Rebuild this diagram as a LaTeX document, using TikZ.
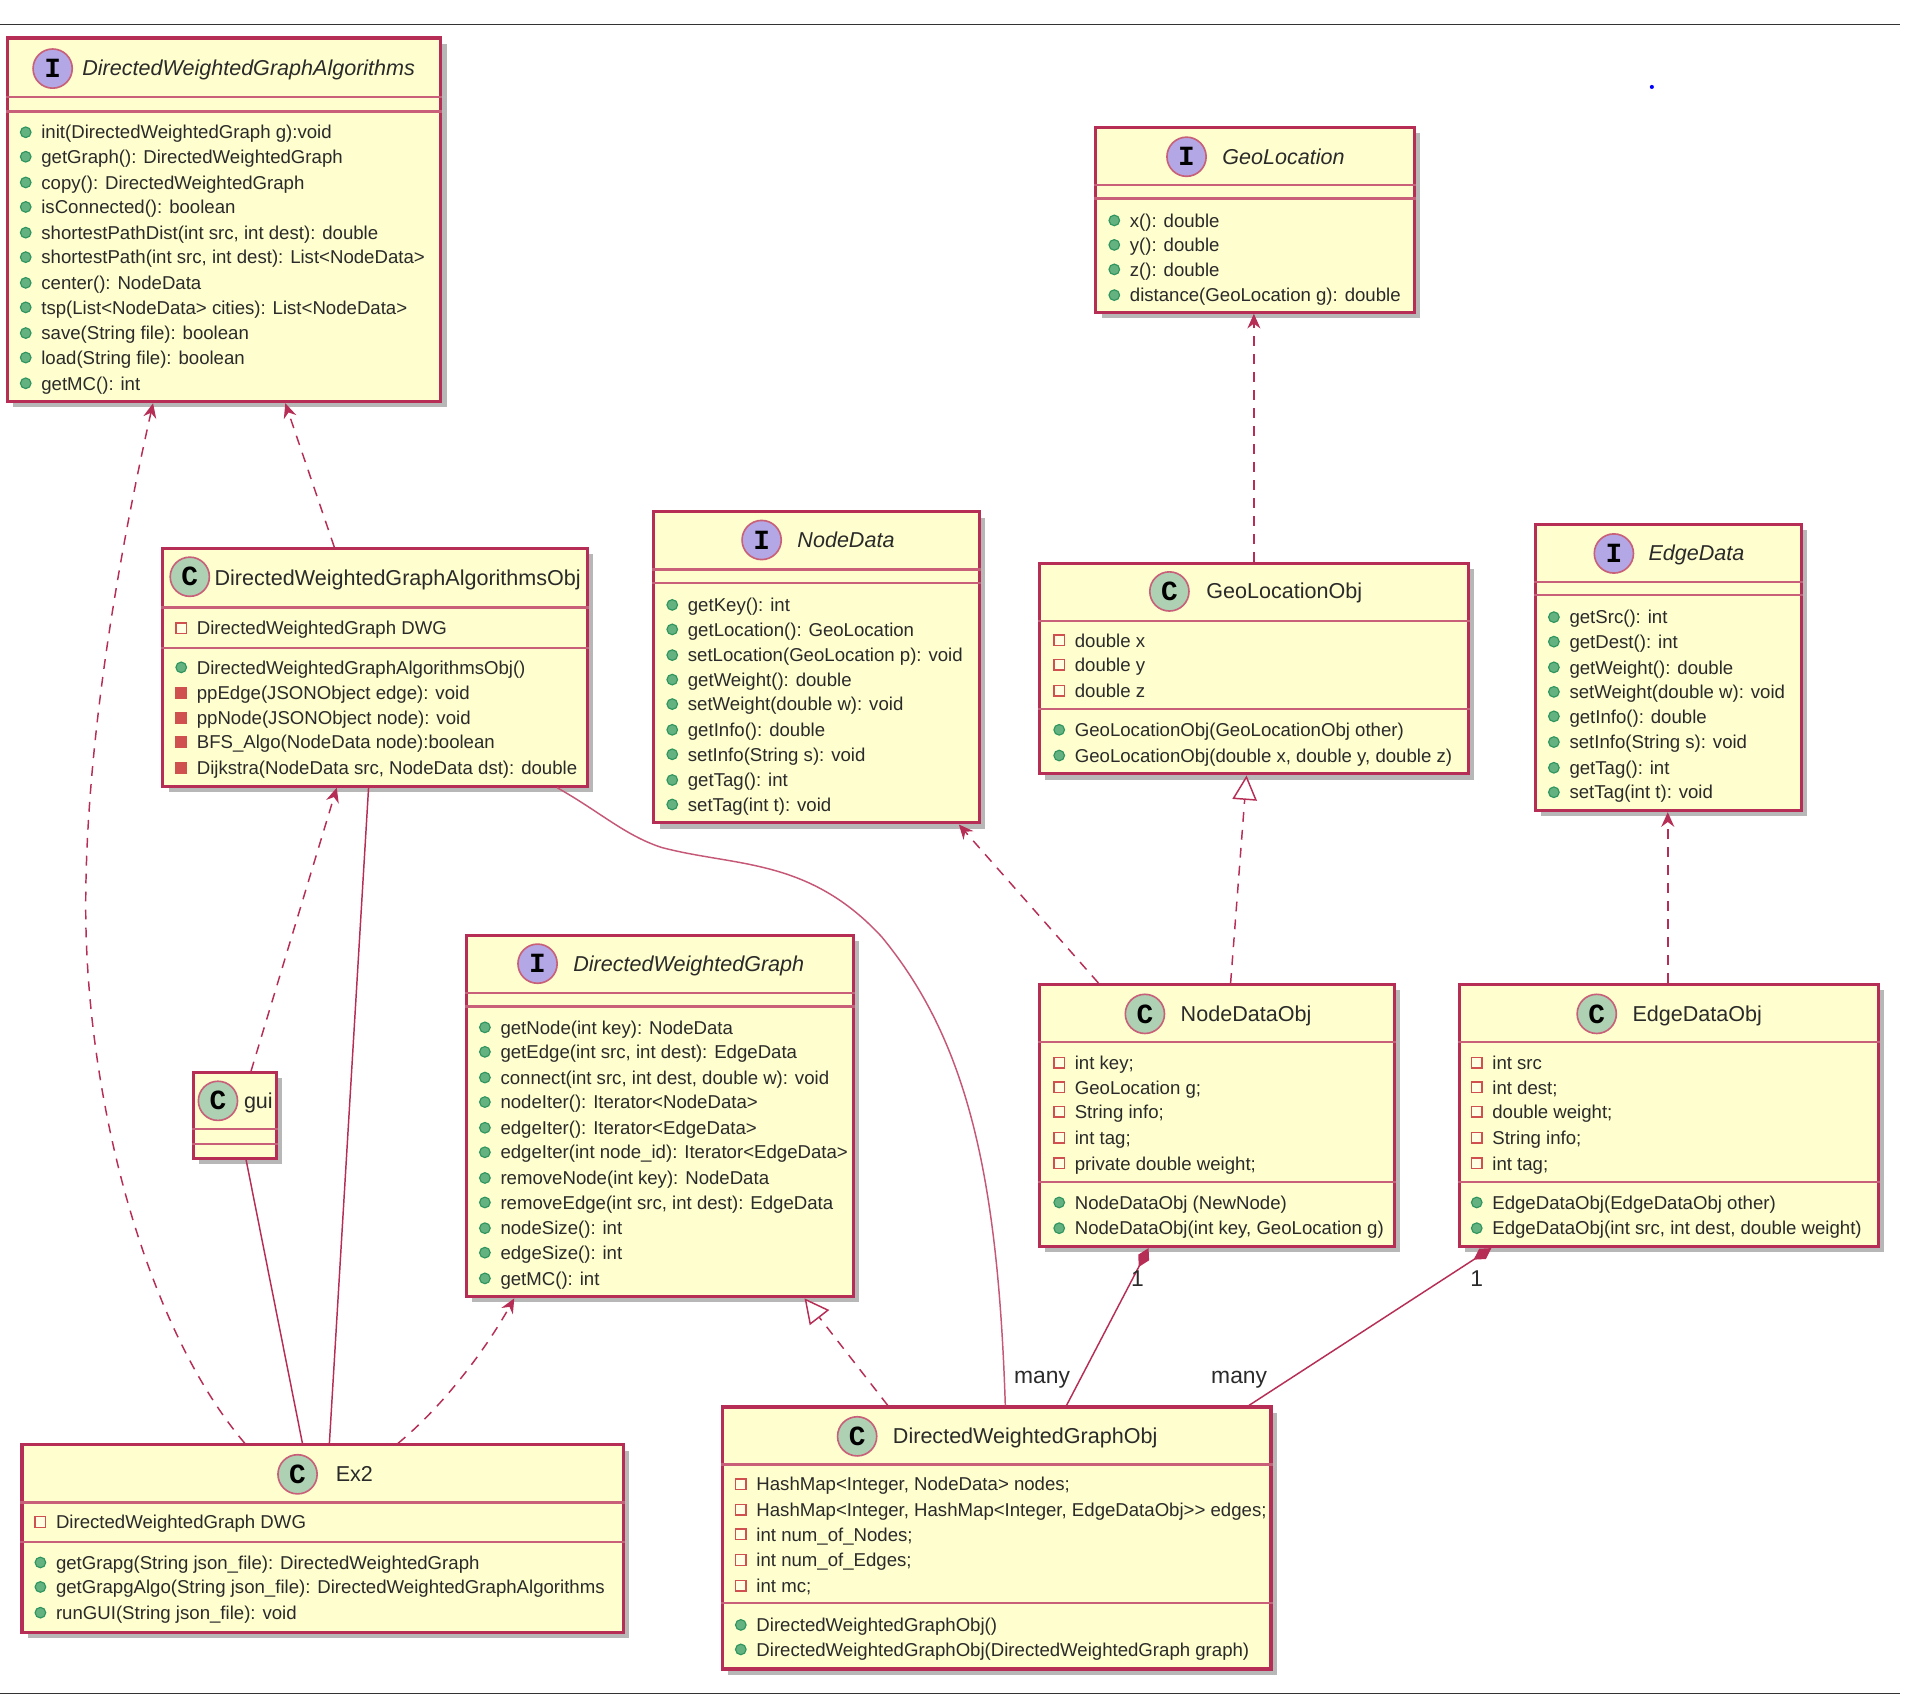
\documentclass[tikz,border=0pt]{standalone}
\usepackage{fontspec}
\setmainfont{Liberation Sans}
\setmonofont{Liberation Mono}
\usetikzlibrary{arrows.meta,fit,shadows}

\definecolor{umlline}{HTML}{B62E55}
\definecolor{umlsep}{HTML}{C9607A}
\definecolor{umlfill}{HTML}{FEFECE}
\definecolor{umltext}{HTML}{2A2A2A}
\definecolor{iconCfill}{HTML}{ADD1B2}
\definecolor{iconIfill}{HTML}{B4A7E5}
\definecolor{dotfill}{HTML}{63B27F}
\definecolor{dotline}{HTML}{2F9560}
\definecolor{privline}{HTML}{D0504F}

\tikzset{
  classbox/.style={draw=umlline,fill=umlfill,line width=1.9pt,inner sep=0pt,
    drop shadow={shadow xshift=3.5pt,shadow yshift=-3.5pt,opacity=0.4,fill=black!70}},
  sepline/.style={draw=umlsep,line width=1.4pt},
  iconC/.style={circle,draw=umlsep,line width=1pt,fill=iconCfill,minimum size=24pt,inner sep=0pt,
    font=\ttfamily\bfseries\fontsize{17}{17}\selectfont,text=black},
  iconI/.style={iconC,fill=iconIfill},
  ctitle/.style={anchor=base west,inner sep=0pt,text=umltext,font=\fontsize{13.2}{15}\selectfont},
  ititle/.style={ctitle,font=\itshape\fontsize{13.2}{15}\selectfont},
  rowtext/.style={anchor=base west,inner sep=0pt,text=umltext,font=\fontsize{11.4}{13}\selectfont},
  pubdot/.style={circle,draw=dotline,fill=dotfill,line width=0.7pt,minimum size=6.5pt,inner sep=0pt},
  privbox/.style={rectangle,draw=privline,fill=umlfill!60!white,line width=0.9pt,minimum size=6.5pt,inner sep=0pt},
  privfill/.style={privbox,fill=privline},
  realize/.style={draw=umlline,line width=0.9pt,dash pattern={on 6pt off 5pt},-{Stealth[length=9pt,width=8pt,inset=3pt]}},
  extend/.style={draw=umlline,line width=0.9pt,dash pattern={on 6pt off 5pt},-{Triangle[open,length=15pt,width=15pt,fill=white]}},
  assoc/.style={draw=umlline,line width=0.9pt},
  compose/.style={assoc,-{Diamond[length=13pt,width=7.5pt]}},
  multlabel/.style={inner sep=0pt,text=umltext,font=\fontsize{14}{16}\selectfont},
}

% one row of a class: name, x of the marker, y of the row, text
\newcommand{\pubrow}[4]{\node (#1d) [pubdot] at (#2,#3) {}; \node (#1) [rowtext] at (#2+12.5,#3+5.5) {#4};}
\newcommand{\fieldrow}[4]{\node (#1d) [privbox] at (#2,#3) {}; \node (#1) [rowtext] at (#2+12.5,#3+5.5) {#4};}
\newcommand{\hiddenrow}[4]{\node (#1d) [privfill] at (#2,#3) {}; \node (#1) [rowtext] at (#2+12.5,#3+5.5) {#4};}

\begin{document}
\begin{tikzpicture}[x=0.75pt,y=0.75pt,yscale=-1,xscale=1]
\useasboundingbox (0,0) rectangle (1568,1390);

%Straight Lines
\coordinate (topL) at (0,20);
\coordinate (topR) at (1552,20);
\coordinate (botL) at (0,1383);
\coordinate (botR) at (1552,1383);
\draw [color=black!80,line width=0.9pt] (topL) -- (topR);
\draw [color=black!80,line width=0.9pt] (botL) -- (botR);
%Shape: Circle
\node (speck) [circle,fill=blue,minimum size=2.5pt,inner sep=0pt] at (1349,71) {};

%Shape: Rectangle
\node (algo) [classbox,fit={(6,31) (360,328)}] {};
\draw [sepline] (algo.west |- 0,79) -- (algo.east |- 0,79);
\draw [sepline] (algo.west |- 0,91) -- (algo.east |- 0,91);
\node (algoIcon) [iconI] at (43,56) {I};
\node (algoTitle) [ititle] at (67,62) {DirectedWeightedGraphAlgorithms};
\pubrow{algoA}{21}{108}{init(DirectedWeightedGraph g):void}
\pubrow{algoB}{21}{128}{getGraph(): DirectedWeightedGraph}
\pubrow{algoC}{21}{149}{copy(): DirectedWeightedGraph}
\pubrow{algoD}{21}{169}{isConnected(): boolean}
\pubrow{algoE}{21}{190}{shortestPathDist(int src, int dest): double}
\pubrow{algoF}{21}{210}{shortestPath(int src, int dest): List<NodeData>}
\pubrow{algoG}{21}{231}{center(): NodeData}
\pubrow{algoH}{21}{251}{tsp(List<NodeData> cities): List<NodeData>}
\pubrow{algoI}{21}{272}{save(String file): boolean}
\pubrow{algoJ}{21}{292}{load(String file): boolean}
\pubrow{algoK}{21}{313}{getMC(): int}

%Shape: Rectangle
\node (algoObj) [classbox,fit={(133,448) (480,642)}] {};
\draw [sepline] (algoObj.west |- 0,496) -- (algoObj.east |- 0,496);
\draw [sepline] (algoObj.west |- 0,529) -- (algoObj.east |- 0,529);
\node (algoObjIcon) [iconC] at (155,471) {C};
\node (algoObjTitle) [ctitle] at (175,478) {DirectedWeightedGraphAlgorithmsObj};
\fieldrow{algoObjA}{148}{513}{DirectedWeightedGraph DWG}
\pubrow{algoObjB}{148}{545}{DirectedWeightedGraphAlgorithmsObj()}
\hiddenrow{algoObjC}{148}{566}{ppEdge(JSONObject edge): void}
\hiddenrow{algoObjD}{148}{586}{ppNode(JSONObject node): void}
\hiddenrow{algoObjE}{148}{606}{BFS\_Algo(NodeData node):boolean}
\hiddenrow{algoObjF}{148}{627}{Dijkstra(NodeData src, NodeData dst): double}

%Shape: Rectangle
\node (nodeData) [classbox,fit={(534,418) (800,672)}] {};
\draw [sepline] (nodeData.west |- 0,465) -- (nodeData.east |- 0,465);
\draw [sepline] (nodeData.west |- 0,476) -- (nodeData.east |- 0,476);
\node (nodeDataIcon) [iconI] at (622,441) {I};
\node (nodeDataTitle) [ititle] at (651,447) {NodeData};
\pubrow{nodeDataA}{549}{494}{getKey(): int}
\pubrow{nodeDataB}{549}{514}{getLocation(): GeoLocation}
\pubrow{nodeDataC}{549}{535}{setLocation(GeoLocation p): void}
\pubrow{nodeDataD}{549}{555}{getWeight(): double}
\pubrow{nodeDataE}{549}{575}{setWeight(double w): void}
\pubrow{nodeDataF}{549}{596}{getInfo(): double}
\pubrow{nodeDataG}{549}{616}{setInfo(String s): void}
\pubrow{nodeDataH}{549}{637}{getTag(): int}
\pubrow{nodeDataI}{549}{657}{setTag(int t): void}

%Shape: Rectangle
\node (geo) [classbox,fit={(895,104) (1155,255)}] {};
\draw [sepline] (geo.west |- 0,151) -- (geo.east |- 0,151);
\draw [sepline] (geo.west |- 0,162) -- (geo.east |- 0,162);
\node (geoIcon) [iconI] at (969,128) {I};
\node (geoTitle) [ititle] at (998,134) {GeoLocation};
\pubrow{geoA}{910}{180}{x(): double}
\pubrow{geoB}{910}{200}{y(): double}
\pubrow{geoC}{910}{220}{z(): double}
\pubrow{geoD}{910}{241}{distance(GeoLocation g): double}

%Shape: Rectangle
\node (geoObj) [classbox,fit={(849,460) (1199,632)}] {};
\draw [sepline] (geoObj.west |- 0,507) -- (geoObj.east |- 0,507);
\draw [sepline] (geoObj.west |- 0,579) -- (geoObj.east |- 0,579);
\node (geoObjIcon) [iconC] at (955,483) {C};
\node (geoObjTitle) [ctitle] at (985,489) {GeoLocationObj};
\fieldrow{geoObjA}{865}{523}{double x}
\fieldrow{geoObjB}{865}{543}{double y}
\fieldrow{geoObjC}{865}{564}{double z}
\pubrow{geoObjD}{865}{596}{GeoLocationObj(GeoLocationObj other)}
\pubrow{geoObjE}{865}{617}{GeoLocationObj(double x, double y, double z)}

%Shape: Rectangle
\node (edgeData) [classbox,fit={(1254,428) (1471,662)}] {};
\draw [sepline] (edgeData.west |- 0,475) -- (edgeData.east |- 0,475);
\draw [sepline] (edgeData.west |- 0,486) -- (edgeData.east |- 0,486);
\node (edgeDataIcon) [iconI] at (1318,452) {I};
\node (edgeDataTitle) [ititle] at (1346,458) {EdgeData};
\pubrow{edgeDataA}{1269}{504}{getSrc(): int}
\pubrow{edgeDataB}{1269}{524}{getDest(): int}
\pubrow{edgeDataC}{1269}{545}{getWeight(): double}
\pubrow{edgeDataD}{1269}{565}{setWeight(double w): void}
\pubrow{edgeDataE}{1269}{585}{getInfo(): double}
\pubrow{edgeDataF}{1269}{606}{setInfo(String s): void}
\pubrow{edgeDataG}{1269}{627}{getTag(): int}
\pubrow{edgeDataH}{1269}{647}{setTag(int t): void}

%Shape: Rectangle
\node (nodeObj) [classbox,fit={(849,804) (1139,1018)}] {};
\draw [sepline] (nodeObj.west |- 0,851) -- (nodeObj.east |- 0,851);
\draw [sepline] (nodeObj.west |- 0,965) -- (nodeObj.east |- 0,965);
\node (nodeObjIcon) [iconC] at (935,828) {C};
\node (nodeObjTitle) [ctitle] at (964,834) {NodeDataObj};
\fieldrow{nodeObjA}{865}{868}{int key;}
\fieldrow{nodeObjB}{865}{888}{GeoLocation g;}
\fieldrow{nodeObjC}{865}{908}{String info;}
\fieldrow{nodeObjD}{865}{929}{int tag;}
\fieldrow{nodeObjE}{865}{950}{private double weight;}
\pubrow{nodeObjF}{865}{982}{NodeDataObj (NewNode)}
\pubrow{nodeObjG}{865}{1003}{NodeDataObj(int key, GeoLocation g)}

%Shape: Rectangle
\node (edgeObj) [classbox,fit={(1192,804) (1534,1018)}] {};
\draw [sepline] (edgeObj.west |- 0,851) -- (edgeObj.east |- 0,851);
\draw [sepline] (edgeObj.west |- 0,965) -- (edgeObj.east |- 0,965);
\node (edgeObjIcon) [iconC] at (1304,828) {C};
\node (edgeObjTitle) [ctitle] at (1333,834) {EdgeDataObj};
\fieldrow{edgeObjA}{1206}{868}{int src}
\fieldrow{edgeObjB}{1206}{888}{int dest;}
\fieldrow{edgeObjC}{1206}{908}{double weight;}
\fieldrow{edgeObjD}{1206}{929}{String info;}
\fieldrow{edgeObjE}{1206}{950}{int tag;}
\pubrow{edgeObjF}{1206}{982}{EdgeDataObj(EdgeDataObj other)}
\pubrow{edgeObjG}{1206}{1003}{EdgeDataObj(int src, int dest, double weight)}

%Shape: Rectangle
\node (graph) [classbox,fit={(381,764) (697,1059)}] {};
\draw [sepline] (graph.west |- 0,811) -- (graph.east |- 0,811);
\draw [sepline] (graph.west |- 0,822) -- (graph.east |- 0,822);
\node (graphIcon) [iconI] at (439,787) {I};
\node (graphTitle) [ititle] at (468,793) {DirectedWeightedGraph};
\pubrow{graphA}{396}{839}{getNode(int key): NodeData}
\pubrow{graphB}{396}{859}{getEdge(int src, int dest): EdgeData}
\pubrow{graphC}{396}{880}{connect(int src, int dest, double w): void}
\pubrow{graphD}{396}{900}{nodeIter(): Iterator<NodeData>}
\pubrow{graphE}{396}{921}{edgeIter(): Iterator<EdgeData>}
\pubrow{graphF}{396}{941}{edgeIter(int node\_id): Iterator<EdgeData>}
\pubrow{graphG}{396}{962}{removeNode(int key): NodeData}
\pubrow{graphH}{396}{982}{removeEdge(int src, int dest): EdgeData}
\pubrow{graphI}{396}{1003}{nodeSize(): int}
\pubrow{graphJ}{396}{1023}{edgeSize(): int}
\pubrow{graphK}{396}{1044}{getMC(): int}

%Shape: Rectangle
\node (gui) [classbox,fit={(158,876) (226,946)}] {};
\draw [sepline] (gui.west |- 0,922) -- (gui.east |- 0,922);
\draw [sepline] (gui.west |- 0,934) -- (gui.east |- 0,934);
\node (guiIcon) [iconC] at (178,899) {C};
\node (guiTitle) [ctitle] at (199,905) {gui};

%Shape: Rectangle
\node (ex) [classbox,fit={(18,1180) (509,1333)}] {};
\draw [sepline] (ex.west |- 0,1227) -- (ex.east |- 0,1227);
\draw [sepline] (ex.west |- 0,1259) -- (ex.east |- 0,1259);
\node (exIcon) [iconC] at (243,1204) {C};
\node (exTitle) [ctitle] at (274,1210) {Ex2};
\fieldrow{exA}{33}{1243}{DirectedWeightedGraph DWG}
\pubrow{exB}{33}{1276}{getGrapg(String json\_file): DirectedWeightedGraph}
\pubrow{exC}{33}{1296}{getGrapgAlgo(String json\_file): DirectedWeightedGraphAlgorithms}
\pubrow{exD}{33}{1317}{runGUI(String json\_file): void}

%Shape: Rectangle
\node (graphObj) [classbox,fit={(590,1149) (1038,1363)}] {};
\draw [sepline] (graphObj.west |- 0,1196) -- (graphObj.east |- 0,1196);
\draw [sepline] (graphObj.west |- 0,1309) -- (graphObj.east |- 0,1309);
\node (graphObjIcon) [iconC] at (700,1173) {C};
\node (graphObjTitle) [ctitle] at (729,1179) {DirectedWeightedGraphObj};
\fieldrow{graphObjA}{605}{1212}{HashMap<Integer, NodeData> nodes;}
\fieldrow{graphObjB}{605}{1233}{HashMap<Integer, HashMap<Integer, EdgeDataObj>{}> edges;}
\fieldrow{graphObjC}{605}{1253}{int num\_of\_Nodes;}
\fieldrow{graphObjD}{605}{1274}{int num\_of\_Edges;}
\fieldrow{graphObjE}{605}{1295}{int mc;}
\pubrow{graphObjF}{605}{1327}{DirectedWeightedGraphObj()}
\pubrow{graphObjG}{605}{1347}{DirectedWeightedGraphObj(DirectedWeightedGraph graph)}

%Curve Lines
\draw [realize] (ex.north -| 200,0) .. controls (120,1085) and (70,900) .. (70,740) .. controls (70,600) and (100,440) .. (algo.south -| 125,0);
%Straight Lines
\draw [realize] (algoObj.north -| 273,0) -- (algo.south -| 233,0);
%Straight Lines
\draw [realize] (gui.north -| 205,0) -- (algoObj.south -| 275,0);
%Straight Lines
\draw [assoc] (gui.south -| 201,0) -- (ex.north -| 247,0);
%Straight Lines
\draw [assoc] (algoObj.south -| 301,0) -- (ex.north -| 269,0);
%Curve Lines
\draw [realize] (ex.north -| 325,0) .. controls (360,1150) and (395,1105) .. (graph.south -| 420,0);
%Straight Lines
\draw [extend] (graphObj.north -| 725,0) -- (graph.south -| 657,0);
%Curve Lines
\draw [assoc,draw=umlline!80!white] (algoObj.south -| 455,0) .. controls (490,663) and (510,682) .. (540,692) .. controls (600,708) and (660,700) .. (720,765) .. controls (790,850) and (815,960) .. (graphObj.north -| 821,0);
%Straight Lines
\draw [realize] (nodeObj.north -| 897,0) -- (nodeData.south -| 783,0);
%Straight Lines
\draw [extend] (nodeObj.north -| 1005,0) -- (geoObj.south -| 1018,0);
%Straight Lines
\draw [realize] (geoObj.north -| 1024,0) -- (geo.south -| 1024,0);
%Straight Lines
\draw [realize] (edgeObj.north -| 1362,0) -- (edgeData.south -| 1362,0);
%Straight Lines
\draw [compose] (graphObj.north -| 871,0) -- (nodeObj.south -| 938,0);
%Straight Lines
\draw [compose] (graphObj.north -| 1020,0) -- (edgeObj.south -| 1218,0);

% Text Node
\node (manyA) [multlabel] at (851,1127) {many};
% Text Node
\node (manyB) [multlabel] at (1012,1127) {many};
% Text Node
\node (oneA) [multlabel] at (929,1044) {1};
% Text Node
\node (oneB) [multlabel] at (1206,1044) {1};

\end{tikzpicture}
\end{document}
